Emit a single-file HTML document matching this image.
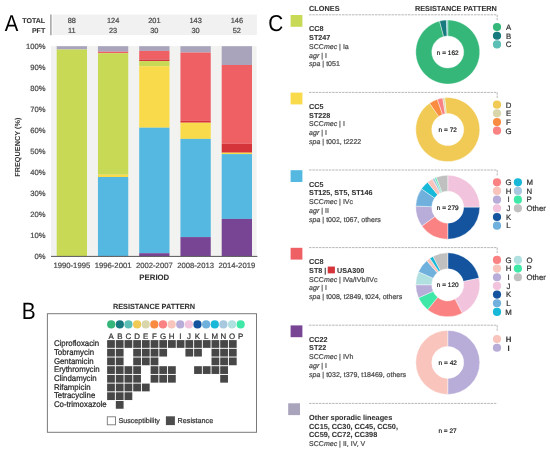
<!DOCTYPE html>
<html><head><meta charset="utf-8"><style>
html,body{margin:0;padding:0;background:#fff;width:550px;height:450px;overflow:hidden}
svg{display:block;font-family:"Liberation Sans", sans-serif;text-rendering:geometricPrecision;will-change:transform}
</style></head><body>
<svg width="550" height="450" viewBox="0 0 550 450">
<text x="0" y="0" font-size="23" fill="#000" transform="translate(4.8 30.8) scale(0.885 1)">A</text>
<text x="45.2" y="23.1" font-size="7.05" font-weight="bold"  text-anchor="end" fill="#333"  stroke="#333" stroke-width="0.08">TOTAL</text>
<text x="45.2" y="33.0" font-size="7.05" font-weight="bold"  text-anchor="end" fill="#333"  stroke="#333" stroke-width="0.08">PFT</text>
<line x1="50.9" y1="14.5" x2="50.9" y2="35.2" stroke="#8a8a8a" stroke-width="1.2"/>
<rect x="52.60" y="14.50" width="204.30" height="20.60" fill="#f1f1f1" />
<text x="71.85" y="23.4" font-size="7.4"   text-anchor="middle" fill="#4a4a4a"  stroke="#4a4a4a" stroke-width="0.22">88</text>
<text x="71.85" y="33.2" font-size="7.4"   text-anchor="middle" fill="#4a4a4a"  stroke="#4a4a4a" stroke-width="0.22">11</text>
<text x="113.10" y="23.4" font-size="7.4"   text-anchor="middle" fill="#4a4a4a"  stroke="#4a4a4a" stroke-width="0.22">124</text>
<text x="113.10" y="33.2" font-size="7.4"   text-anchor="middle" fill="#4a4a4a"  stroke="#4a4a4a" stroke-width="0.22">23</text>
<text x="154.35" y="23.4" font-size="7.4"   text-anchor="middle" fill="#4a4a4a"  stroke="#4a4a4a" stroke-width="0.22">201</text>
<text x="154.35" y="33.2" font-size="7.4"   text-anchor="middle" fill="#4a4a4a"  stroke="#4a4a4a" stroke-width="0.22">30</text>
<text x="195.60" y="23.4" font-size="7.4"   text-anchor="middle" fill="#4a4a4a"  stroke="#4a4a4a" stroke-width="0.22">143</text>
<text x="195.60" y="33.2" font-size="7.4"   text-anchor="middle" fill="#4a4a4a"  stroke="#4a4a4a" stroke-width="0.22">30</text>
<text x="236.85" y="23.4" font-size="7.4"   text-anchor="middle" fill="#4a4a4a"  stroke="#4a4a4a" stroke-width="0.22">146</text>
<text x="236.85" y="33.2" font-size="7.4"   text-anchor="middle" fill="#4a4a4a"  stroke="#4a4a4a" stroke-width="0.22">52</text>
<rect x="51.00" y="46.10" width="205.60" height="210.00" fill="#f2f2f0" />
<rect x="56.70" y="46.20" width="30.30" height="3.30" fill="#a9a3bb" />
<rect x="56.70" y="49.50" width="30.30" height="206.70" fill="#c8d955" />
<rect x="97.95" y="46.20" width="30.30" height="5.50" fill="#a9a3bb" />
<rect x="97.95" y="51.70" width="30.30" height="1.50" fill="#ef6065" />
<rect x="97.95" y="53.20" width="30.30" height="121.50" fill="#c8d955" />
<rect x="97.95" y="174.70" width="30.30" height="2.30" fill="#f8da4a" />
<rect x="97.95" y="177.00" width="30.30" height="79.20" fill="#54b8e0" />
<rect x="139.20" y="46.20" width="30.30" height="4.70" fill="#a9a3bb" />
<rect x="139.20" y="50.90" width="30.30" height="8.60" fill="#ef6065" />
<rect x="139.20" y="59.50" width="30.30" height="1.60" fill="#d5353a" />
<rect x="139.20" y="61.10" width="30.30" height="5.10" fill="#c8d955" />
<rect x="139.20" y="66.20" width="30.30" height="61.50" fill="#f8da4a" />
<rect x="139.20" y="127.70" width="30.30" height="125.50" fill="#54b8e0" />
<rect x="139.20" y="253.20" width="30.30" height="3.00" fill="#774594" />
<rect x="180.45" y="46.20" width="30.30" height="6.30" fill="#a9a3bb" />
<rect x="180.45" y="52.50" width="30.30" height="68.40" fill="#ef6065" />
<rect x="180.45" y="120.90" width="30.30" height="1.80" fill="#d5353a" />
<rect x="180.45" y="122.70" width="30.30" height="16.20" fill="#f8da4a" />
<rect x="180.45" y="138.90" width="30.30" height="98.20" fill="#54b8e0" />
<rect x="180.45" y="237.10" width="30.30" height="19.10" fill="#774594" />
<rect x="221.70" y="46.20" width="30.30" height="18.80" fill="#a9a3bb" />
<rect x="221.70" y="65.00" width="30.30" height="78.80" fill="#ef6065" />
<rect x="221.70" y="143.80" width="30.30" height="8.90" fill="#d5353a" />
<rect x="221.70" y="152.70" width="30.30" height="1.40" fill="#f8da4a" />
<rect x="221.70" y="154.10" width="30.30" height="64.80" fill="#54b8e0" />
<rect x="221.70" y="218.90" width="30.30" height="37.30" fill="#774594" />
<line x1="51" y1="256.4" x2="257.4" y2="256.4" stroke="#555" stroke-width="1"/>
<text x="45.5" y="258.80" font-size="7.6"   text-anchor="end" fill="#4a4a4a"  stroke="#4a4a4a" stroke-width="0.22">0%</text>
<text x="45.5" y="237.81" font-size="7.6"   text-anchor="end" fill="#4a4a4a"  stroke="#4a4a4a" stroke-width="0.22">10%</text>
<text x="45.5" y="216.82" font-size="7.6"   text-anchor="end" fill="#4a4a4a"  stroke="#4a4a4a" stroke-width="0.22">20%</text>
<text x="45.5" y="195.83" font-size="7.6"   text-anchor="end" fill="#4a4a4a"  stroke="#4a4a4a" stroke-width="0.22">30%</text>
<text x="45.5" y="174.84" font-size="7.6"   text-anchor="end" fill="#4a4a4a"  stroke="#4a4a4a" stroke-width="0.22">40%</text>
<text x="45.5" y="153.85" font-size="7.6"   text-anchor="end" fill="#4a4a4a"  stroke="#4a4a4a" stroke-width="0.22">50%</text>
<text x="45.5" y="132.86" font-size="7.6"   text-anchor="end" fill="#4a4a4a"  stroke="#4a4a4a" stroke-width="0.22">60%</text>
<text x="45.5" y="111.87" font-size="7.6"   text-anchor="end" fill="#4a4a4a"  stroke="#4a4a4a" stroke-width="0.22">70%</text>
<text x="45.5" y="90.88" font-size="7.6"   text-anchor="end" fill="#4a4a4a"  stroke="#4a4a4a" stroke-width="0.22">80%</text>
<text x="45.5" y="69.89" font-size="7.6"   text-anchor="end" fill="#4a4a4a"  stroke="#4a4a4a" stroke-width="0.22">90%</text>
<text x="45.5" y="48.90" font-size="7.6"   text-anchor="end" fill="#4a4a4a"  stroke="#4a4a4a" stroke-width="0.22">100%</text>
<text x="71.85" y="267.6" font-size="7.7"   text-anchor="middle" fill="#4a4a4a"  stroke="#4a4a4a" stroke-width="0.22">1990-1995</text>
<text x="113.10" y="267.6" font-size="7.7"   text-anchor="middle" fill="#4a4a4a"  stroke="#4a4a4a" stroke-width="0.22">1996-2001</text>
<text x="154.35" y="267.6" font-size="7.7"   text-anchor="middle" fill="#4a4a4a"  stroke="#4a4a4a" stroke-width="0.22">2002-2007</text>
<text x="195.60" y="267.6" font-size="7.7"   text-anchor="middle" fill="#4a4a4a"  stroke="#4a4a4a" stroke-width="0.22">2008-2013</text>
<text x="236.85" y="267.6" font-size="7.7"   text-anchor="middle" fill="#4a4a4a"  stroke="#4a4a4a" stroke-width="0.22">2014-2019</text>
<text x="154.3" y="279.7" font-size="7.8" font-weight="bold"  text-anchor="middle" fill="#333"  stroke="#333" stroke-width="0.08">PERIOD</text>
<text x="0" y="0" font-size="7.3" font-weight="bold" fill="#333" text-anchor="middle" transform="translate(20.3 147.2) rotate(-90)">FREQUENCY (%)</text>
<text x="0" y="0" font-size="23.7" fill="#000" transform="translate(21.75 318.8) scale(0.88 1)">B</text>
<text x="0" y="0" transform="translate(154.0 309.3) scale(0.965 1)" font-size="7.6" font-weight="bold"  text-anchor="middle" fill="#333"  stroke="#333" stroke-width="0.08">RESISTANCE PATTERN</text>
<rect x="47.4" y="313.7" width="209.1" height="118.6" fill="none" stroke="#7a7a7a" stroke-width="1"/>
<circle cx="111.20" cy="324.4" r="4.1" fill="#35b77a"/>
<text x="111.20" y="338.6" font-size="7.9"   text-anchor="middle" fill="#333"  stroke="#333" stroke-width="0.22">A</text>
<circle cx="119.83" cy="324.4" r="4.1" fill="#177a7f"/>
<text x="119.83" y="338.6" font-size="7.9"   text-anchor="middle" fill="#333"  stroke="#333" stroke-width="0.22">B</text>
<circle cx="128.46" cy="324.4" r="4.1" fill="#5bbfb5"/>
<text x="128.46" y="338.6" font-size="7.9"   text-anchor="middle" fill="#333"  stroke="#333" stroke-width="0.22">C</text>
<circle cx="137.09" cy="324.4" r="4.1" fill="#f0ca55"/>
<text x="137.09" y="338.6" font-size="7.9"   text-anchor="middle" fill="#333"  stroke="#333" stroke-width="0.22">D</text>
<circle cx="145.72" cy="324.4" r="4.1" fill="#d8d6aa"/>
<text x="145.72" y="338.6" font-size="7.9"   text-anchor="middle" fill="#333"  stroke="#333" stroke-width="0.22">E</text>
<circle cx="154.35" cy="324.4" r="4.1" fill="#fa8c42"/>
<text x="154.35" y="338.6" font-size="7.9"   text-anchor="middle" fill="#333"  stroke="#333" stroke-width="0.22">F</text>
<circle cx="162.98" cy="324.4" r="4.1" fill="#fa8282"/>
<text x="162.98" y="338.6" font-size="7.9"   text-anchor="middle" fill="#333"  stroke="#333" stroke-width="0.22">G</text>
<circle cx="171.61" cy="324.4" r="4.1" fill="#f9c4bb"/>
<text x="171.61" y="338.6" font-size="7.9"   text-anchor="middle" fill="#333"  stroke="#333" stroke-width="0.22">H</text>
<circle cx="180.24" cy="324.4" r="4.1" fill="#b8acd8"/>
<text x="180.24" y="338.6" font-size="7.9"   text-anchor="middle" fill="#333"  stroke="#333" stroke-width="0.22">I</text>
<circle cx="188.87" cy="324.4" r="4.1" fill="#f2c3dc"/>
<text x="188.87" y="338.6" font-size="7.9"   text-anchor="middle" fill="#333"  stroke="#333" stroke-width="0.22">J</text>
<circle cx="197.50" cy="324.4" r="4.1" fill="#14549e"/>
<text x="197.50" y="338.6" font-size="7.9"   text-anchor="middle" fill="#333"  stroke="#333" stroke-width="0.22">K</text>
<circle cx="206.13" cy="324.4" r="4.1" fill="#70b0dc"/>
<text x="206.13" y="338.6" font-size="7.9"   text-anchor="middle" fill="#333"  stroke="#333" stroke-width="0.22">L</text>
<circle cx="214.76" cy="324.4" r="4.1" fill="#17b8d8"/>
<text x="214.76" y="338.6" font-size="7.9"   text-anchor="middle" fill="#333"  stroke="#333" stroke-width="0.22">M</text>
<circle cx="223.39" cy="324.4" r="4.1" fill="#a8c8e0"/>
<text x="223.39" y="338.6" font-size="7.9"   text-anchor="middle" fill="#333"  stroke="#333" stroke-width="0.22">N</text>
<circle cx="232.02" cy="324.4" r="4.1" fill="#b0e0e0"/>
<text x="232.02" y="338.6" font-size="7.9"   text-anchor="middle" fill="#333"  stroke="#333" stroke-width="0.22">O</text>
<circle cx="240.65" cy="324.4" r="4.1" fill="#40e8a8"/>
<text x="240.65" y="338.6" font-size="7.9"   text-anchor="middle" fill="#333"  stroke="#333" stroke-width="0.22">P</text>
<text x="0" y="0" transform="translate(53.9 346.20) scale(0.945 1)" font-size="8.3"   text-anchor="start" fill="#262626"  stroke="#262626" stroke-width="0.22">Ciprofloxacin</text>
<rect x="107.12" y="340.10" width="7.75" height="7.75" fill="#474747" />
<rect x="115.83" y="340.10" width="7.75" height="7.75" fill="#474747" />
<rect x="124.53" y="340.10" width="7.75" height="7.75" fill="#474747" />
<rect x="133.22" y="340.10" width="7.75" height="7.75" fill="#474747" />
<rect x="141.93" y="340.10" width="7.75" height="7.75" fill="#474747" />
<rect x="150.62" y="340.10" width="7.75" height="7.75" fill="#474747" />
<rect x="159.32" y="340.10" width="7.75" height="7.75" fill="#474747" />
<rect x="168.02" y="340.10" width="7.75" height="7.75" fill="#474747" />
<rect x="176.72" y="340.10" width="7.75" height="7.75" fill="#474747" />
<rect x="185.43" y="340.10" width="7.75" height="7.75" fill="#474747" />
<rect x="194.12" y="340.10" width="7.75" height="7.75" fill="#474747" />
<rect x="202.82" y="340.10" width="7.75" height="7.75" fill="#474747" />
<rect x="211.52" y="340.10" width="7.75" height="7.75" fill="#474747" />
<rect x="220.22" y="340.10" width="7.75" height="7.75" fill="#474747" />
<rect x="228.92" y="340.10" width="7.75" height="7.75" fill="#474747" />
<text x="0" y="0" transform="translate(53.9 354.90) scale(0.945 1)" font-size="8.3"   text-anchor="start" fill="#262626"  stroke="#262626" stroke-width="0.22">Tobramycin</text>
<rect x="107.12" y="348.80" width="7.75" height="7.75" fill="#474747" />
<rect x="115.83" y="348.80" width="7.75" height="7.75" fill="#474747" />
<rect x="133.22" y="348.80" width="7.75" height="7.75" fill="#474747" />
<rect x="141.93" y="348.80" width="7.75" height="7.75" fill="#474747" />
<rect x="150.62" y="348.80" width="7.75" height="7.75" fill="#474747" />
<rect x="159.32" y="348.80" width="7.75" height="7.75" fill="#474747" />
<rect x="185.43" y="348.80" width="7.75" height="7.75" fill="#474747" />
<rect x="194.12" y="348.80" width="7.75" height="7.75" fill="#474747" />
<rect x="211.52" y="348.80" width="7.75" height="7.75" fill="#474747" />
<rect x="220.22" y="348.80" width="7.75" height="7.75" fill="#474747" />
<rect x="228.92" y="348.80" width="7.75" height="7.75" fill="#474747" />
<text x="0" y="0" transform="translate(53.9 363.60) scale(0.945 1)" font-size="8.3"   text-anchor="start" fill="#262626"  stroke="#262626" stroke-width="0.22">Gentamicin</text>
<rect x="107.12" y="357.50" width="7.75" height="7.75" fill="#474747" />
<rect x="115.83" y="357.50" width="7.75" height="7.75" fill="#474747" />
<rect x="133.22" y="357.50" width="7.75" height="7.75" fill="#474747" />
<rect x="141.93" y="357.50" width="7.75" height="7.75" fill="#474747" />
<rect x="150.62" y="357.50" width="7.75" height="7.75" fill="#474747" />
<rect x="211.52" y="357.50" width="7.75" height="7.75" fill="#474747" />
<rect x="220.22" y="357.50" width="7.75" height="7.75" fill="#474747" />
<rect x="228.92" y="357.50" width="7.75" height="7.75" fill="#474747" />
<text x="0" y="0" transform="translate(53.9 372.30) scale(0.945 1)" font-size="8.3"   text-anchor="start" fill="#262626"  stroke="#262626" stroke-width="0.22">Erythromycin</text>
<rect x="107.12" y="366.20" width="7.75" height="7.75" fill="#474747" />
<rect x="115.83" y="366.20" width="7.75" height="7.75" fill="#474747" />
<rect x="124.53" y="366.20" width="7.75" height="7.75" fill="#474747" />
<rect x="133.22" y="366.20" width="7.75" height="7.75" fill="#474747" />
<rect x="150.62" y="366.20" width="7.75" height="7.75" fill="#474747" />
<rect x="159.32" y="366.20" width="7.75" height="7.75" fill="#474747" />
<rect x="168.02" y="366.20" width="7.75" height="7.75" fill="#474747" />
<rect x="194.12" y="366.20" width="7.75" height="7.75" fill="#474747" />
<rect x="202.82" y="366.20" width="7.75" height="7.75" fill="#474747" />
<rect x="211.52" y="366.20" width="7.75" height="7.75" fill="#474747" />
<rect x="220.22" y="366.20" width="7.75" height="7.75" fill="#474747" />
<text x="0" y="0" transform="translate(53.9 381.00) scale(0.945 1)" font-size="8.3"   text-anchor="start" fill="#262626"  stroke="#262626" stroke-width="0.22">Clindamycin</text>
<rect x="107.12" y="374.90" width="7.75" height="7.75" fill="#474747" />
<rect x="115.83" y="374.90" width="7.75" height="7.75" fill="#474747" />
<rect x="124.53" y="374.90" width="7.75" height="7.75" fill="#474747" />
<rect x="133.22" y="374.90" width="7.75" height="7.75" fill="#474747" />
<rect x="150.62" y="374.90" width="7.75" height="7.75" fill="#474747" />
<rect x="159.32" y="374.90" width="7.75" height="7.75" fill="#474747" />
<rect x="168.02" y="374.90" width="7.75" height="7.75" fill="#474747" />
<rect x="220.22" y="374.90" width="7.75" height="7.75" fill="#474747" />
<text x="0" y="0" transform="translate(53.9 389.70) scale(0.945 1)" font-size="8.3"   text-anchor="start" fill="#262626"  stroke="#262626" stroke-width="0.22">Rifampicin</text>
<rect x="107.12" y="383.60" width="7.75" height="7.75" fill="#474747" />
<rect x="115.83" y="383.60" width="7.75" height="7.75" fill="#474747" />
<rect x="124.53" y="383.60" width="7.75" height="7.75" fill="#474747" />
<rect x="133.22" y="383.60" width="7.75" height="7.75" fill="#474747" />
<rect x="141.93" y="383.60" width="7.75" height="7.75" fill="#474747" />
<text x="0" y="0" transform="translate(53.9 398.40) scale(0.945 1)" font-size="8.3"   text-anchor="start" fill="#262626"  stroke="#262626" stroke-width="0.22">Tetracycline</text>
<rect x="107.12" y="392.30" width="7.75" height="7.75" fill="#474747" />
<rect x="115.83" y="392.30" width="7.75" height="7.75" fill="#474747" />
<rect x="124.53" y="392.30" width="7.75" height="7.75" fill="#474747" />
<text x="0" y="0" transform="translate(53.9 407.10) scale(0.945 1)" font-size="8.3"   text-anchor="start" fill="#262626"  stroke="#262626" stroke-width="0.22">Co-trimoxazole</text>
<rect x="115.83" y="401.00" width="7.75" height="7.75" fill="#474747" />
<rect x="107.3" y="416.8" width="8.2" height="8.0" fill="#fff" stroke="#777" stroke-width="0.9"/>
<text x="118.5" y="423.4" font-size="7.1"   text-anchor="start" fill="#333"  stroke="#333" stroke-width="0.22">Susceptibility</text>
<rect x="165.90" y="416.30" width="9.00" height="8.80" fill="#4d4d4d" />
<text x="177.6" y="423.4" font-size="7.2"   text-anchor="start" fill="#333"  stroke="#333" stroke-width="0.22">Resistance</text>
<text x="0" y="0" font-size="23.1" fill="#000" transform="translate(268.3 31.3) scale(0.9 1)">C</text>
<text x="309.1" y="10.6" font-size="7.3" font-weight="bold"  text-anchor="start" fill="#333"  stroke="#333" stroke-width="0.08">CLONES</text>
<text x="455.9" y="10.6" font-size="7.3" font-weight="bold"  text-anchor="middle" fill="#333"  stroke="#333" stroke-width="0.08">RESISTANCE PATTERN</text>
<rect x="290.60" y="15.00" width="11.80" height="11.80" fill="#c8d955" />
<path d="M309,14.80 H497.2 V20.30" fill="none" stroke="#999" stroke-width="0.7" stroke-dasharray="2.5,0.8"/>
<text x="309.1" y="31.30" font-size="7.2" font-weight="bold"  text-anchor="start" fill="#333"  stroke="#333" stroke-width="0.08">CC8</text>
<text x="309.1" y="40.05" font-size="7.2" font-weight="bold"  text-anchor="start" fill="#333"  stroke="#333" stroke-width="0.08">ST247</text>
<text x="309.1" y="48.80" font-size="7.02"   text-anchor="start" fill="#4a4a4a"  stroke="#4a4a4a" stroke-width="0.22">SCC<tspan font-style="italic">mec</tspan> | Ia</text>
<text x="309.1" y="57.55" font-size="7.02"   text-anchor="start" fill="#4a4a4a"  stroke="#4a4a4a" stroke-width="0.22"><tspan font-style="italic">agr</tspan> | I</text>
<text x="309.1" y="66.30" font-size="7.02"   text-anchor="start" fill="#4a4a4a"  stroke="#4a4a4a" stroke-width="0.22"><tspan font-style="italic">spa</tspan> | t051</text>
<path d="M447.750,20.000 A32.0,32.0 0 1 1 439.576,21.062 L443.663,36.531 A16.0,16.0 0 1 0 447.750,36.000 Z" fill="#35b77a" stroke="#fff" stroke-width="0.4"/>
<path d="M439.576,21.062 A32.0,32.0 0 0 1 446.410,20.028 L447.080,36.014 A16.0,16.0 0 0 0 443.663,36.531 Z" fill="#177a7f" stroke="#fff" stroke-width="0.4"/>
<path d="M446.410,20.028 A32.0,32.0 0 0 1 447.750,20.000 L447.750,36.000 A16.0,16.0 0 0 0 447.080,36.014 Z" fill="#5bbfb5" stroke="#fff" stroke-width="0.4"/>
<text x="447.75" y="54.60" font-size="6.5"   text-anchor="middle" fill="#222"  stroke="#222" stroke-width="0.22">n = 162</text>
<circle cx="497.00" cy="27.10" r="4.1" fill="#35b77a"/>
<text x="508.50" y="29.90" font-size="7.8"   text-anchor="middle" fill="#333"  stroke="#333" stroke-width="0.22">A</text>
<circle cx="497.00" cy="35.77" r="4.1" fill="#177a7f"/>
<text x="508.50" y="38.57" font-size="7.8"   text-anchor="middle" fill="#333"  stroke="#333" stroke-width="0.22">B</text>
<circle cx="497.00" cy="44.44" r="4.1" fill="#5bbfb5"/>
<text x="508.50" y="47.24" font-size="7.8"   text-anchor="middle" fill="#333"  stroke="#333" stroke-width="0.22">C</text>
<rect x="290.60" y="92.60" width="11.80" height="11.80" fill="#f8da4a" />
<path d="M309,92.40 H497.2 V97.90" fill="none" stroke="#999" stroke-width="0.7" stroke-dasharray="2.5,0.8"/>
<text x="309.1" y="108.90" font-size="7.2" font-weight="bold"  text-anchor="start" fill="#333"  stroke="#333" stroke-width="0.08">CC5</text>
<text x="309.1" y="117.65" font-size="7.2" font-weight="bold"  text-anchor="start" fill="#333"  stroke="#333" stroke-width="0.08">ST228</text>
<text x="309.1" y="126.40" font-size="7.02"   text-anchor="start" fill="#4a4a4a"  stroke="#4a4a4a" stroke-width="0.22">SCC<tspan font-style="italic">mec</tspan> | I</text>
<text x="309.1" y="135.15" font-size="7.02"   text-anchor="start" fill="#4a4a4a"  stroke="#4a4a4a" stroke-width="0.22"><tspan font-style="italic">agr</tspan> | I</text>
<text x="309.1" y="143.90" font-size="7.02"   text-anchor="start" fill="#4a4a4a"  stroke="#4a4a4a" stroke-width="0.22"><tspan font-style="italic">spa</tspan> | t001, t2222</text>
<path d="M444.683,97.747 A32.0,32.0 0 1 1 429.625,103.228 L438.688,116.414 A16.0,16.0 0 1 0 446.216,113.674 Z" fill="#f0ca55" stroke="#fff" stroke-width="0.4"/>
<path d="M429.625,103.228 A32.0,32.0 0 0 1 437.332,99.343 L442.541,114.472 A16.0,16.0 0 0 0 438.688,116.414 Z" fill="#fa8c42" stroke="#fff" stroke-width="0.4"/>
<path d="M437.332,99.343 A32.0,32.0 0 0 1 442.744,97.994 L445.247,113.797 A16.0,16.0 0 0 0 442.541,114.472 Z" fill="#fa8282" stroke="#fff" stroke-width="0.4"/>
<path d="M442.744,97.994 A32.0,32.0 0 0 1 444.683,97.747 L446.216,113.674 A16.0,16.0 0 0 0 445.247,113.797 Z" fill="#d8d6aa" stroke="#fff" stroke-width="0.4"/>
<text x="447.75" y="132.20" font-size="6.5"   text-anchor="middle" fill="#222"  stroke="#222" stroke-width="0.22">n = 72</text>
<circle cx="497.00" cy="104.70" r="4.1" fill="#f0ca55"/>
<text x="508.50" y="107.50" font-size="7.8"   text-anchor="middle" fill="#333"  stroke="#333" stroke-width="0.22">D</text>
<circle cx="497.00" cy="113.37" r="4.1" fill="#d8d6aa"/>
<text x="508.50" y="116.17" font-size="7.8"   text-anchor="middle" fill="#333"  stroke="#333" stroke-width="0.22">E</text>
<circle cx="497.00" cy="122.04" r="4.1" fill="#fa8c42"/>
<text x="508.50" y="124.84" font-size="7.8"   text-anchor="middle" fill="#333"  stroke="#333" stroke-width="0.22">F</text>
<circle cx="497.00" cy="130.71" r="4.1" fill="#fa8282"/>
<text x="508.50" y="133.51" font-size="7.8"   text-anchor="middle" fill="#333"  stroke="#333" stroke-width="0.22">G</text>
<rect x="290.60" y="170.20" width="11.80" height="11.80" fill="#54b8e0" />
<path d="M309,170.00 H497.2 V175.50" fill="none" stroke="#999" stroke-width="0.7" stroke-dasharray="2.5,0.8"/>
<text x="309.1" y="186.50" font-size="7.2" font-weight="bold"  text-anchor="start" fill="#333"  stroke="#333" stroke-width="0.08">CC5</text>
<text x="309.1" y="195.25" font-size="7.2" font-weight="bold"  text-anchor="start" fill="#333"  stroke="#333" stroke-width="0.08">ST125, ST5, ST146</text>
<text x="309.1" y="204.00" font-size="7.02"   text-anchor="start" fill="#4a4a4a"  stroke="#4a4a4a" stroke-width="0.22">SCC<tspan font-style="italic">mec</tspan> | IVc</text>
<text x="309.1" y="212.75" font-size="7.02"   text-anchor="start" fill="#4a4a4a"  stroke="#4a4a4a" stroke-width="0.22"><tspan font-style="italic">agr</tspan> | II</text>
<text x="309.1" y="221.50" font-size="7.02"   text-anchor="start" fill="#4a4a4a"  stroke="#4a4a4a" stroke-width="0.22"><tspan font-style="italic">spa</tspan> | t002, t067, others</text>
<path d="M447.750,175.200 A32.0,32.0 0 0 1 479.750,207.200 L463.750,207.200 A16.0,16.0 0 0 0 447.750,191.200 Z" fill="#f2c3dc" stroke="#fff" stroke-width="0.4"/>
<path d="M479.750,207.200 A32.0,32.0 0 0 1 447.750,239.200 L447.750,223.200 A16.0,16.0 0 0 0 463.750,207.200 Z" fill="#14549e" stroke="#fff" stroke-width="0.4"/>
<path d="M447.750,239.200 A32.0,32.0 0 0 1 421.861,226.009 L434.806,216.605 A16.0,16.0 0 0 0 447.750,223.200 Z" fill="#fa8282" stroke="#fff" stroke-width="0.4"/>
<path d="M421.861,226.009 A32.0,32.0 0 0 1 415.769,206.083 L431.760,206.642 A16.0,16.0 0 0 0 434.806,216.605 Z" fill="#b8acd8" stroke="#fff" stroke-width="0.4"/>
<path d="M415.769,206.083 A32.0,32.0 0 0 1 421.537,188.846 L434.644,198.023 A16.0,16.0 0 0 0 431.760,206.642 Z" fill="#70b0dc" stroke="#fff" stroke-width="0.4"/>
<path d="M421.537,188.846 A32.0,32.0 0 0 1 427.612,182.331 L437.681,194.766 A16.0,16.0 0 0 0 434.644,198.023 Z" fill="#17b8d8" stroke="#fff" stroke-width="0.4"/>
<path d="M427.612,182.331 A32.0,32.0 0 0 1 432.481,179.078 L440.115,193.139 A16.0,16.0 0 0 0 437.681,194.766 Z" fill="#f9c4bb" stroke="#fff" stroke-width="0.4"/>
<path d="M432.481,179.078 A32.0,32.0 0 0 1 434.734,177.967 L441.242,192.583 A16.0,16.0 0 0 0 440.115,193.139 Z" fill="#a8c8e0" stroke="#fff" stroke-width="0.4"/>
<path d="M434.734,177.967 A32.0,32.0 0 0 1 436.282,177.325 L442.016,192.263 A16.0,16.0 0 0 0 441.242,192.583 Z" fill="#40e8a8" stroke="#fff" stroke-width="0.4"/>
<path d="M436.282,177.325 A32.0,32.0 0 0 1 447.750,175.200 L447.750,191.200 A16.0,16.0 0 0 0 442.016,192.263 Z" fill="#c0c0c0" stroke="#fff" stroke-width="0.4"/>
<text x="447.75" y="209.80" font-size="6.5"   text-anchor="middle" fill="#222"  stroke="#222" stroke-width="0.22">n = 279</text>
<circle cx="497.00" cy="182.30" r="4.1" fill="#fa8282"/>
<text x="508.50" y="185.10" font-size="7.8"   text-anchor="middle" fill="#333"  stroke="#333" stroke-width="0.22">G</text>
<circle cx="497.00" cy="190.97" r="4.1" fill="#f9c4bb"/>
<text x="508.50" y="193.77" font-size="7.8"   text-anchor="middle" fill="#333"  stroke="#333" stroke-width="0.22">H</text>
<circle cx="497.00" cy="199.64" r="4.1" fill="#b8acd8"/>
<text x="508.50" y="202.44" font-size="7.8"   text-anchor="middle" fill="#333"  stroke="#333" stroke-width="0.22">I</text>
<circle cx="497.00" cy="208.31" r="4.1" fill="#f2c3dc"/>
<text x="508.50" y="211.11" font-size="7.8"   text-anchor="middle" fill="#333"  stroke="#333" stroke-width="0.22">J</text>
<circle cx="497.00" cy="216.98" r="4.1" fill="#14549e"/>
<text x="508.50" y="219.78" font-size="7.8"   text-anchor="middle" fill="#333"  stroke="#333" stroke-width="0.22">K</text>
<circle cx="497.00" cy="225.65" r="4.1" fill="#70b0dc"/>
<text x="508.50" y="228.45" font-size="7.8"   text-anchor="middle" fill="#333"  stroke="#333" stroke-width="0.22">L</text>
<circle cx="517.90" cy="182.30" r="4.1" fill="#17b8d8"/>
<text x="526.40" y="185.10" font-size="7.8"   text-anchor="start" fill="#333"  stroke="#333" stroke-width="0.22">M</text>
<circle cx="517.90" cy="190.97" r="4.1" fill="#a8c8e0"/>
<text x="526.40" y="193.77" font-size="7.8"   text-anchor="start" fill="#333"  stroke="#333" stroke-width="0.22">N</text>
<circle cx="517.90" cy="199.64" r="4.1" fill="#40e8a8"/>
<text x="526.40" y="202.44" font-size="7.8"   text-anchor="start" fill="#333"  stroke="#333" stroke-width="0.22">P</text>
<circle cx="517.90" cy="208.31" r="4.1" fill="#c0c0c0"/>
<text x="526.40" y="211.11" font-size="7.8"   text-anchor="start" fill="#333"  stroke="#333" stroke-width="0.22">Other</text>
<rect x="290.60" y="247.80" width="11.80" height="11.80" fill="#ef6065" />
<path d="M309,247.60 H497.2 V253.10" fill="none" stroke="#999" stroke-width="0.7" stroke-dasharray="2.5,0.8"/>
<text x="309.1" y="264.10" font-size="7.2" font-weight="bold"  text-anchor="start" fill="#333"  stroke="#333" stroke-width="0.08">CC8</text>
<text x="309.1" y="272.85" font-size="7.2" font-weight="bold"  text-anchor="start" fill="#333"  stroke="#333" stroke-width="0.08">ST8 |</text>
<text x="309.1" y="281.60" font-size="7.02"   text-anchor="start" fill="#4a4a4a"  stroke="#4a4a4a" stroke-width="0.22">SCC<tspan font-style="italic">mec</tspan> | IVa/IVb/IVc</text>
<text x="309.1" y="290.35" font-size="7.02"   text-anchor="start" fill="#4a4a4a"  stroke="#4a4a4a" stroke-width="0.22"><tspan font-style="italic">agr</tspan> | I</text>
<text x="309.1" y="299.10" font-size="7.02"   text-anchor="start" fill="#4a4a4a"  stroke="#4a4a4a" stroke-width="0.22"><tspan font-style="italic">spa</tspan> | t008, t2849, t024, others</text>
<rect x="327.70" y="266.55" width="7.20" height="6.80" fill="#d5353a" />
<text x="337.0" y="272.85" font-size="7.2" font-weight="bold"  text-anchor="start" fill="#333"  stroke="#333" stroke-width="0.08">USA300</text>
<path d="M447.750,252.800 A32.0,32.0 0 0 1 479.051,278.147 L463.400,281.473 A16.0,16.0 0 0 0 447.750,268.800 Z" fill="#14549e" stroke="#fff" stroke-width="0.4"/>
<path d="M479.051,278.147 A32.0,32.0 0 0 1 462.278,313.312 L455.014,299.056 A16.0,16.0 0 0 0 463.400,281.473 Z" fill="#f2c3dc" stroke="#fff" stroke-width="0.4"/>
<path d="M462.278,313.312 A32.0,32.0 0 0 1 427.612,309.669 L437.681,297.234 A16.0,16.0 0 0 0 455.014,299.056 Z" fill="#fa8282" stroke="#fff" stroke-width="0.4"/>
<path d="M427.612,309.669 A32.0,32.0 0 0 1 418.517,297.816 L433.133,291.308 A16.0,16.0 0 0 0 437.681,297.234 Z" fill="#40e8a8" stroke="#fff" stroke-width="0.4"/>
<path d="M418.517,297.816 A32.0,32.0 0 0 1 415.750,284.800 L431.750,284.800 A16.0,16.0 0 0 0 433.133,291.308 Z" fill="#b8acd8" stroke="#fff" stroke-width="0.4"/>
<path d="M415.750,284.800 A32.0,32.0 0 0 1 418.517,271.784 L433.133,278.292 A16.0,16.0 0 0 0 431.750,284.800 Z" fill="#b0e0e0" stroke="#fff" stroke-width="0.4"/>
<path d="M418.517,271.784 A32.0,32.0 0 0 1 426.756,260.649 L437.253,272.725 A16.0,16.0 0 0 0 433.133,278.292 Z" fill="#70b0dc" stroke="#fff" stroke-width="0.4"/>
<path d="M426.756,260.649 A32.0,32.0 0 0 1 429.856,258.271 L438.803,271.535 A16.0,16.0 0 0 0 437.253,272.725 Z" fill="#f9c4bb" stroke="#fff" stroke-width="0.4"/>
<path d="M429.856,258.271 A32.0,32.0 0 0 1 433.024,256.390 L440.387,270.595 A16.0,16.0 0 0 0 438.803,271.535 Z" fill="#17b8d8" stroke="#fff" stroke-width="0.4"/>
<path d="M433.024,256.390 A32.0,32.0 0 0 1 447.750,252.800 L447.750,268.800 A16.0,16.0 0 0 0 440.387,270.595 Z" fill="#c0c0c0" stroke="#fff" stroke-width="0.4"/>
<text x="447.75" y="287.40" font-size="6.5"   text-anchor="middle" fill="#222"  stroke="#222" stroke-width="0.22">n = 120</text>
<circle cx="497.00" cy="259.90" r="4.1" fill="#fa8282"/>
<text x="508.50" y="262.70" font-size="7.8"   text-anchor="middle" fill="#333"  stroke="#333" stroke-width="0.22">G</text>
<circle cx="497.00" cy="268.57" r="4.1" fill="#f9c4bb"/>
<text x="508.50" y="271.37" font-size="7.8"   text-anchor="middle" fill="#333"  stroke="#333" stroke-width="0.22">H</text>
<circle cx="497.00" cy="277.24" r="4.1" fill="#b8acd8"/>
<text x="508.50" y="280.04" font-size="7.8"   text-anchor="middle" fill="#333"  stroke="#333" stroke-width="0.22">I</text>
<circle cx="497.00" cy="285.91" r="4.1" fill="#f2c3dc"/>
<text x="508.50" y="288.71" font-size="7.8"   text-anchor="middle" fill="#333"  stroke="#333" stroke-width="0.22">J</text>
<circle cx="497.00" cy="294.58" r="4.1" fill="#14549e"/>
<text x="508.50" y="297.38" font-size="7.8"   text-anchor="middle" fill="#333"  stroke="#333" stroke-width="0.22">K</text>
<circle cx="497.00" cy="303.25" r="4.1" fill="#70b0dc"/>
<text x="508.50" y="306.05" font-size="7.8"   text-anchor="middle" fill="#333"  stroke="#333" stroke-width="0.22">L</text>
<circle cx="497.00" cy="311.92" r="4.1" fill="#17b8d8"/>
<text x="508.50" y="314.72" font-size="7.8"   text-anchor="middle" fill="#333"  stroke="#333" stroke-width="0.22">M</text>
<circle cx="517.90" cy="259.90" r="4.1" fill="#b0e0e0"/>
<text x="526.40" y="262.70" font-size="7.8"   text-anchor="start" fill="#333"  stroke="#333" stroke-width="0.22">O</text>
<circle cx="517.90" cy="268.57" r="4.1" fill="#40e8a8"/>
<text x="526.40" y="271.37" font-size="7.8"   text-anchor="start" fill="#333"  stroke="#333" stroke-width="0.22">P</text>
<circle cx="517.90" cy="277.24" r="4.1" fill="#c0c0c0"/>
<text x="526.40" y="280.04" font-size="7.8"   text-anchor="start" fill="#333"  stroke="#333" stroke-width="0.22">Other</text>
<rect x="290.60" y="325.40" width="11.80" height="11.80" fill="#774594" />
<path d="M309,325.20 H497.2 V330.70" fill="none" stroke="#999" stroke-width="0.7" stroke-dasharray="2.5,0.8"/>
<text x="309.1" y="341.70" font-size="7.2" font-weight="bold"  text-anchor="start" fill="#333"  stroke="#333" stroke-width="0.08">CC22</text>
<text x="309.1" y="350.45" font-size="7.2" font-weight="bold"  text-anchor="start" fill="#333"  stroke="#333" stroke-width="0.08">ST22</text>
<text x="309.1" y="359.20" font-size="7.02"   text-anchor="start" fill="#4a4a4a"  stroke="#4a4a4a" stroke-width="0.22">SCC<tspan font-style="italic">mec</tspan> | IVh</text>
<text x="309.1" y="367.95" font-size="7.02"   text-anchor="start" fill="#4a4a4a"  stroke="#4a4a4a" stroke-width="0.22"><tspan font-style="italic">agr</tspan> | I</text>
<text x="309.1" y="376.70" font-size="7.02"   text-anchor="start" fill="#4a4a4a"  stroke="#4a4a4a" stroke-width="0.22"><tspan font-style="italic">spa</tspan> | t032, t379, t18469, others</text>
<path d="M447.750,330.400 A32.0,32.0 0 0 1 447.750,394.400 L447.750,378.400 A16.0,16.0 0 0 0 447.750,346.400 Z" fill="#b8acd8" stroke="#fff" stroke-width="0.4"/>
<path d="M447.750,394.400 A32.0,32.0 0 0 1 447.750,330.400 L447.750,346.400 A16.0,16.0 0 0 0 447.750,378.400 Z" fill="#f9c4bb" stroke="#fff" stroke-width="0.4"/>
<text x="447.75" y="365.00" font-size="6.5"   text-anchor="middle" fill="#222"  stroke="#222" stroke-width="0.22">n = 42</text>
<circle cx="497.00" cy="339.10" r="4.1" fill="#f9c4bb"/>
<text x="508.50" y="341.90" font-size="7.8" font-weight="bold"  text-anchor="middle" fill="#333"  stroke="#333" stroke-width="0.08">H</text>
<circle cx="497.00" cy="347.77" r="4.1" fill="#b8acd8"/>
<text x="508.50" y="350.57" font-size="7.8" font-weight="bold"  text-anchor="middle" fill="#333"  stroke="#333" stroke-width="0.08">I</text>
<rect x="288.20" y="403.30" width="11.80" height="11.80" fill="#a9a3bb" />
<path d="M309,403.40 H497.2" fill="none" stroke="#999" stroke-width="0.7" stroke-dasharray="2.5,0.8"/>
<text x="309.1" y="419.90" font-size="7.3" font-weight="bold"  text-anchor="start" fill="#333"  stroke="#333" stroke-width="0.08">Other sporadic lineages</text>
<text x="309.1" y="428.50" font-size="7.3" font-weight="bold"  text-anchor="start" fill="#333"  stroke="#333" stroke-width="0.08">CC15, CC30, CC45, CC50,</text>
<text x="309.1" y="437.10" font-size="7.3" font-weight="bold"  text-anchor="start" fill="#333"  stroke="#333" stroke-width="0.08">CC59, CC72, CC398</text>
<text x="309.1" y="445.70" font-size="7.02"   text-anchor="start" fill="#4a4a4a"  stroke="#4a4a4a" stroke-width="0.22">SCC<tspan font-style="italic">mec</tspan> | II, IV, V</text>
<text x="447.6" y="433.1" font-size="6.5"   text-anchor="middle" fill="#222"  stroke="#222" stroke-width="0.22">n = 27</text>
</svg>
</body></html>
